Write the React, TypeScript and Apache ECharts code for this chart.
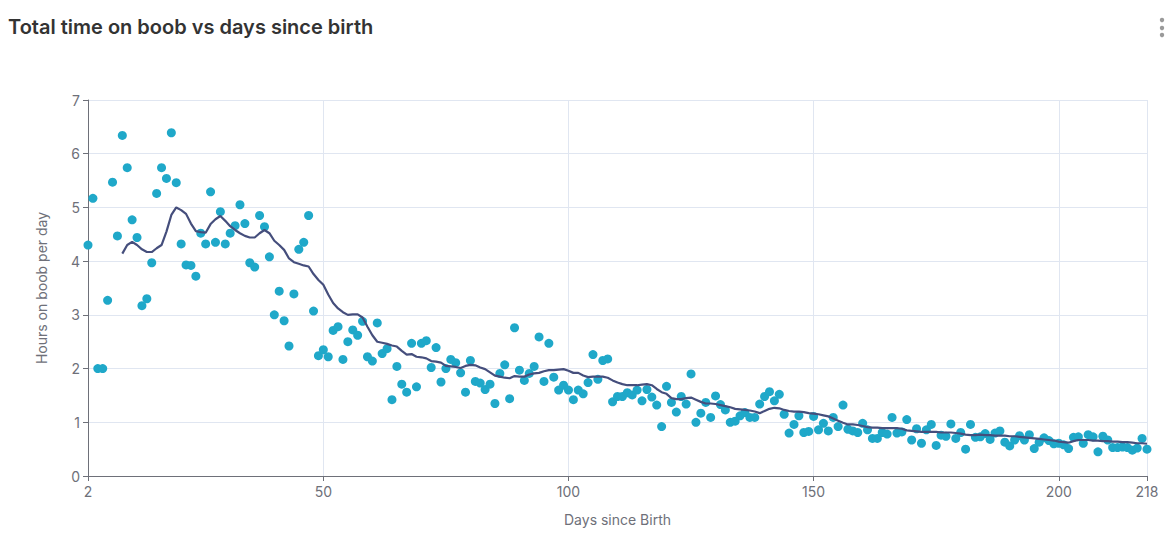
import React, { useEffect, useRef } from "react";
import * as echarts from "echarts";

const firstDay = 2;
const hoursPerDay = [
  4.30, 5.17, 2.00, 2.00, 3.27, 5.47, 4.47, 6.34, 5.74, 4.77, 4.44, 3.17, 3.30, 3.97, 5.26, 5.74, 5.54, 6.39, 5.46,
  4.32, 3.93, 3.92, 3.72, 4.52, 4.32, 5.29, 4.35, 4.92, 4.32, 4.52, 4.66, 5.05, 4.70, 3.97, 3.89, 4.85, 4.64, 4.08,
  3.00, 3.44, 2.89, 2.42, 3.39, 4.22, 4.35, 4.85, 3.07, 2.24, 2.35, 2.22, 2.71, 2.78, 2.17, 2.50, 2.72, 2.62, 2.88,
  2.22, 2.14, 2.85, 2.28, 2.37, 1.42, 2.04, 1.71, 1.56, 2.47, 1.66, 2.47, 2.52, 2.02, 2.39, 1.75, 2.00, 2.17, 2.11,
  1.92, 1.56, 2.15, 1.76, 1.73, 1.61, 1.71, 1.35, 1.91, 2.07, 1.44, 2.76, 1.97, 1.78, 1.91, 2.04, 2.59, 1.76, 2.47,
  1.84, 1.60, 1.69, 1.60, 1.42, 1.60, 1.53, 1.74, 2.26, 1.80, 2.15, 2.18, 1.38, 1.48, 1.48, 1.55, 1.51, 1.60, 1.40,
  1.61, 1.47, 1.32, 0.92, 1.67, 1.37, 1.19, 1.48, 1.34, 1.90, 1.00, 1.17, 1.37, 1.09, 1.49, 1.33, 1.23, 1.00, 1.02,
  1.12, 1.18, 1.09, 1.09, 1.34, 1.48, 1.57, 1.40, 1.52, 1.15, 0.80, 0.96, 1.12, 0.81, 0.83, 1.11, 0.86, 0.98, 0.84,
  1.09, 0.92, 1.32, 0.87, 0.84, 0.81, 0.98, 0.86, 0.70, 0.70, 0.81, 0.78, 1.09, 0.80, 0.82, 1.05, 0.67, 0.88, 0.61,
  0.86, 0.96, 0.57, 0.76, 0.74, 0.97, 0.70, 0.81, 0.50, 0.96, 0.72, 0.73, 0.79, 0.68, 0.80, 0.84, 0.63, 0.56, 0.67,
  0.75, 0.67, 0.77, 0.51, 0.63, 0.71, 0.66, 0.60, 0.61, 0.58, 0.51, 0.72, 0.73, 0.61, 0.77, 0.73, 0.45, 0.74, 0.67,
  0.53, 0.53, 0.54, 0.53, 0.48, 0.52, 0.70, 0.50,
];

const trendFirstDay = 9;
const trendValues = [
  4.14, 4.30, 4.36, 4.30, 4.22, 4.17, 4.17, 4.24, 4.30, 4.55, 4.86, 5.00, 4.95, 4.88, 4.70, 4.56, 4.54, 4.53, 4.69,
  4.78, 4.84, 4.75, 4.65, 4.58, 4.52, 4.47, 4.44, 4.44, 4.52, 4.58, 4.52, 4.38, 4.30, 4.21, 4.05, 3.98, 3.95, 3.92,
  3.90, 3.76, 3.65, 3.56, 3.38, 3.22, 3.12, 3.05, 3.00, 3.01, 3.01, 2.95, 2.78, 2.62, 2.50, 2.48, 2.46, 2.43, 2.41,
  2.33, 2.26, 2.27, 2.22, 2.21, 2.19, 2.14, 2.13, 2.11, 2.05, 2.04, 2.03, 2.01, 2.05, 2.07, 2.06, 2.02, 1.99, 1.93,
  1.87, 1.85, 1.83, 1.82, 1.86, 1.85, 1.85, 1.89, 1.91, 1.92, 1.95, 1.97, 1.97, 1.98, 1.99, 1.96, 1.92, 1.92, 1.87,
  1.84, 1.85, 1.85, 1.85, 1.83, 1.78, 1.74, 1.71, 1.69, 1.69, 1.69, 1.70, 1.71, 1.69, 1.62, 1.56, 1.53, 1.45, 1.43,
  1.43, 1.45, 1.46, 1.42, 1.38, 1.35, 1.35, 1.34, 1.32, 1.30, 1.28, 1.25, 1.24, 1.23, 1.22, 1.20, 1.17, 1.21, 1.25,
  1.27, 1.26, 1.23, 1.21, 1.20, 1.20, 1.19, 1.17, 1.16, 1.15, 1.13, 1.11, 1.07, 1.03, 0.99, 0.96, 0.96, 0.95, 0.93,
  0.91, 0.90, 0.90, 0.89, 0.89, 0.89, 0.89, 0.88, 0.85, 0.84, 0.83, 0.82, 0.82, 0.82, 0.82, 0.81, 0.81, 0.81, 0.80,
  0.79, 0.77, 0.76, 0.76, 0.77, 0.76, 0.76, 0.75, 0.75, 0.75, 0.74, 0.74, 0.73, 0.72, 0.71, 0.70, 0.69, 0.68, 0.67,
  0.66, 0.64, 0.63, 0.62, 0.65, 0.67, 0.67, 0.67, 0.66, 0.66, 0.65, 0.65, 0.64, 0.64, 0.63, 0.63, 0.62, 0.61, 0.61,
  0.60,
];

const titleText = "Total time on boob vs days since birth";
const xName = "Days since Birth";
const yName = "Hours on boob per day";

export default function App() {
  const ref = useRef<HTMLDivElement>(null);
  useEffect(() => {
    if (!ref.current) return;
    const chart = echarts.init(ref.current, null, { renderer: "svg" });
    const scatterData = hoursPerDay.map((v, i) => [firstDay + i, v]);
    const lineData = trendValues.map((v, i) => [trendFirstDay + i, v]);
    const axisColor = "#6E7079";
    chart.setOption({
      animation: false,
      title: {
        text: titleText,
        left: 3,
        top: 12,
        textStyle: {
          fontFamily: "Inter",
          fontSize: 20,
          fontWeight: 600,
          color: "#333333",
        },
      },
      graphic: [
        { type: "circle", shape: { cx: 1162, cy: 20, r: 2.2 }, style: { fill: "#9a9a9a" } },
        { type: "circle", shape: { cx: 1162, cy: 28, r: 2.2 }, style: { fill: "#9a9a9a" } },
        { type: "circle", shape: { cx: 1162, cy: 35, r: 2.2 }, style: { fill: "#9a9a9a" } },
      ],
      grid: { left: 88, right: 23, top: 100, bottom: 62 },
      xAxis: {
        type: "value",
        min: 2,
        max: 218,
        name: xName,
        nameLocation: "middle",
        nameGap: 36,
        nameTextStyle: { color: axisColor, fontSize: 14, fontFamily: "Inter" },
        axisLine: { show: true, lineStyle: { color: axisColor } },
        axisTick: { show: true, lineStyle: { color: axisColor } },
        axisLabel: { color: axisColor, fontSize: 14, fontFamily: "Inter", margin: 8 },
        splitLine: { show: true, lineStyle: { color: "#E0E6F1" } },
      },
      yAxis: {
        type: "value",
        min: 0,
        max: 7,
        interval: 1,
        name: yName,
        nameLocation: "middle",
        nameGap: 40,
        nameTextStyle: { color: axisColor, fontSize: 14, fontFamily: "Inter" },
        axisLine: { show: true, lineStyle: { color: axisColor } },
        axisTick: { show: true, lineStyle: { color: axisColor } },
        axisLabel: { color: axisColor, fontSize: 14, fontFamily: "Inter", margin: 8 },
        splitLine: { show: true, lineStyle: { color: "#E0E6F1" } },
      },
      series: [
        {
          type: "scatter",
          data: scatterData,
          symbolSize: 9,
          itemStyle: { color: "#1FA8C9", opacity: 1 },
          z: 2,
        },
        {
          type: "line",
          data: lineData,
          showSymbol: false,
          symbol: "none",
          lineStyle: { color: "#454E7C", width: 2.2 },
          itemStyle: { color: "#454E7C" },
          z: 3,
        },
      ],
    });
    return () => chart.dispose();
  }, []);
  return (
    <div
      ref={ref}
      style={{ position: "absolute", left: 0, top: 0, width: 1170, height: 538, background: "#ffffff" }}
    />
  );
}
